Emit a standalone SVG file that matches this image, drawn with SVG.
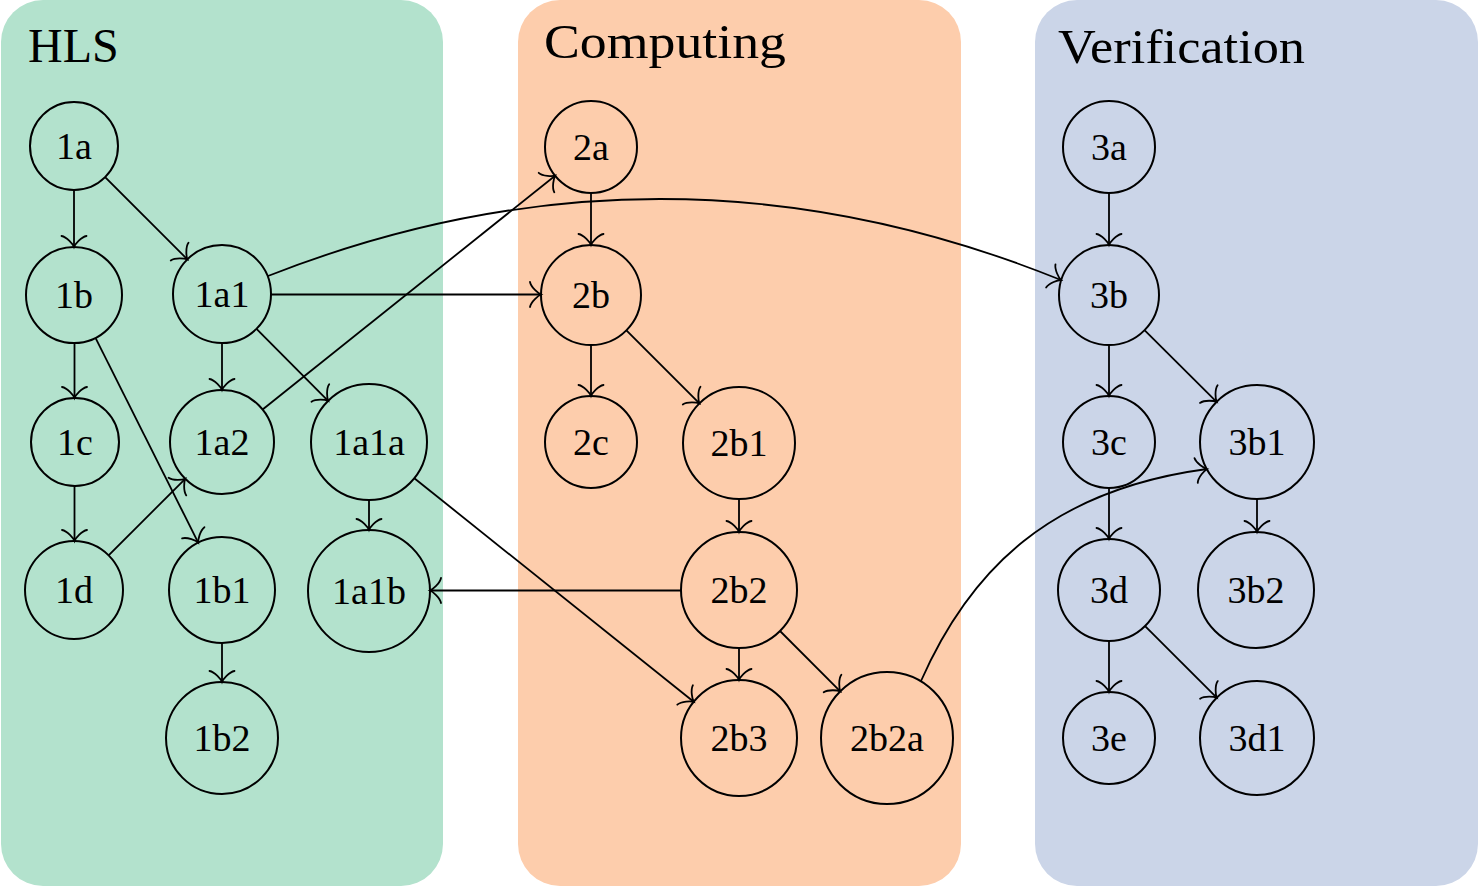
<svg xmlns="http://www.w3.org/2000/svg" width="1480" height="886" viewBox="0 0 1480 886">
<style>
.lbl{font-family:"Liberation Serif","DejaVu Serif",serif;font-size:38px;text-anchor:middle;fill:#000}
.ttl{font-family:"Liberation Serif","DejaVu Serif",serif;font-size:48px;fill:#000}
.n circle{stroke:#000;stroke-width:2}
.g circle{fill:#b3e2cd}
.o circle{fill:#fdcdac}
.b circle{fill:#cbd5e8}
#edges path,#edges line{fill:none;stroke:#000;stroke-width:1.8;marker-end:url(#to)}
</style>
<defs>
<marker id="to" markerUnits="userSpaceOnUse" markerWidth="30" markerHeight="30" refX="0" refY="0" orient="auto" overflow="visible">
<path d="M-11,-12.5 C-10,-7 -2.5,-1 0,0 C-2.5,1 -10,7 -11,12.5" fill="none" stroke="#000" stroke-width="1.8" stroke-linecap="round"/>
</marker>
</defs>
<g id="panels">
<rect x="1" y="0" width="442" height="886" rx="42" fill="#b3e2cd"/>
<rect x="518" y="0" width="443" height="886" rx="42" fill="#fdcdac"/>
<rect x="1035" y="0" width="443" height="886" rx="42" fill="#cbd5e8"/>
<text class="ttl" x="28" y="62">HLS</text>
<text class="ttl" x="544" y="58" textLength="242" lengthAdjust="spacingAndGlyphs">Computing</text>
<text class="ttl" x="1058" y="63" textLength="247" lengthAdjust="spacingAndGlyphs">Verification</text>
</g>
<g id="nodes">
<g id="n1a" class="n g"><circle cx="74" cy="146" r="44"/><text class="lbl" x="74" y="159">1a</text></g>
<g id="n1b" class="n g"><circle cx="74" cy="295" r="48"/><text class="lbl" x="74" y="308">1b</text></g>
<g id="n1a1" class="n g"><circle cx="222" cy="294" r="49"/><text class="lbl" x="222" y="307">1a1</text></g>
<g id="n1c" class="n g"><circle cx="75" cy="442" r="44"/><text class="lbl" x="75" y="455">1c</text></g>
<g id="n1a2" class="n g"><circle cx="222" cy="442" r="52"/><text class="lbl" x="222" y="455">1a2</text></g>
<g id="n1a1a" class="n g"><circle cx="369" cy="442" r="58"/><text class="lbl" x="369" y="455">1a1a</text></g>
<g id="n1d" class="n g"><circle cx="74" cy="590" r="49"/><text class="lbl" x="74" y="603">1d</text></g>
<g id="n1b1" class="n g"><circle cx="222" cy="590" r="53"/><text class="lbl" x="222" y="603">1b1</text></g>
<g id="n1a1b" class="n g"><circle cx="369" cy="591" r="61"/><text class="lbl" x="369" y="604">1a1b</text></g>
<g id="n1b2" class="n g"><circle cx="222" cy="738" r="56"/><text class="lbl" x="222" y="751">1b2</text></g>
<g id="n2a" class="n o"><circle cx="591" cy="147" r="46"/><text class="lbl" x="591" y="160">2a</text></g>
<g id="n2b" class="n o"><circle cx="591" cy="295" r="50"/><text class="lbl" x="591" y="308">2b</text></g>
<g id="n2c" class="n o"><circle cx="591" cy="442" r="46"/><text class="lbl" x="591" y="455">2c</text></g>
<g id="n2b1" class="n o"><circle cx="739" cy="443" r="56"/><text class="lbl" x="739" y="456">2b1</text></g>
<g id="n2b2" class="n o"><circle cx="739" cy="590" r="58"/><text class="lbl" x="739" y="603">2b2</text></g>
<g id="n2b3" class="n o"><circle cx="739" cy="738" r="58"/><text class="lbl" x="739" y="751">2b3</text></g>
<g id="n2b2a" class="n o"><circle cx="887" cy="738" r="66"/><text class="lbl" x="887" y="751">2b2a</text></g>
<g id="n3a" class="n b"><circle cx="1109" cy="147" r="46"/><text class="lbl" x="1109" y="160">3a</text></g>
<g id="n3b" class="n b"><circle cx="1109" cy="295" r="50"/><text class="lbl" x="1109" y="308">3b</text></g>
<g id="n3c" class="n b"><circle cx="1109" cy="442" r="46"/><text class="lbl" x="1109" y="455">3c</text></g>
<g id="n3b1" class="n b"><circle cx="1257" cy="442" r="57"/><text class="lbl" x="1257" y="455">3b1</text></g>
<g id="n3d" class="n b"><circle cx="1109" cy="590" r="51"/><text class="lbl" x="1109" y="603">3d</text></g>
<g id="n3b2" class="n b"><circle cx="1256" cy="590" r="58"/><text class="lbl" x="1256" y="603">3b2</text></g>
<g id="n3e" class="n b"><circle cx="1109" cy="738" r="46"/><text class="lbl" x="1109" y="751">3e</text></g>
<g id="n3d1" class="n b"><circle cx="1257" cy="738" r="57"/><text class="lbl" x="1257" y="751">3d1</text></g>
</g>
<g id="edges">
<line x1="74" y1="190" x2="74" y2="247"/>
<line x1="105.1" y1="177.1" x2="187.4" y2="259.4"/>
<line x1="74.5" y1="343" x2="74.5" y2="398"/>
<line x1="95.5" y1="337.9" x2="198.2" y2="542.6"/>
<line x1="222" y1="343" x2="222" y2="390"/>
<line x1="256.5" y1="328.8" x2="328.1" y2="400.8"/>
<line x1="271" y1="294.5" x2="541" y2="294.5"/>
<path d="M268,276 Q665,120 1061,280"/>
<line x1="74.5" y1="486" x2="74.5" y2="541"/>
<line x1="108.6" y1="555.4" x2="185.2" y2="478.8"/>
<line x1="262.6" y1="409.5" x2="555.1" y2="175.7"/>
<line x1="369" y1="500" x2="369" y2="530"/>
<line x1="414.3" y1="478.2" x2="693.7" y2="701.8"/>
<line x1="222" y1="643" x2="222" y2="682"/>
<line x1="591" y1="193" x2="591" y2="245"/>
<line x1="591" y1="345" x2="591" y2="396"/>
<line x1="626.4" y1="330.4" x2="699.4" y2="403.4"/>
<line x1="739" y1="499" x2="739" y2="532"/>
<line x1="681" y1="590.5" x2="430" y2="590.5"/>
<line x1="739" y1="648" x2="739" y2="680"/>
<line x1="780" y1="631" x2="840.3" y2="691.3"/>
<path d="M921,681 C970,570 1050,490 1207,469"/>
<line x1="1109" y1="193" x2="1109" y2="245"/>
<line x1="1109" y1="345" x2="1109" y2="396"/>
<line x1="1144.5" y1="330.2" x2="1216.6" y2="401.8"/>
<line x1="1109" y1="488" x2="1109" y2="539"/>
<line x1="1109" y1="641" x2="1109" y2="692"/>
<line x1="1145.1" y1="626.1" x2="1216.7" y2="697.7"/>
<line x1="1257" y1="499" x2="1257" y2="532"/>
</g>
</svg>
